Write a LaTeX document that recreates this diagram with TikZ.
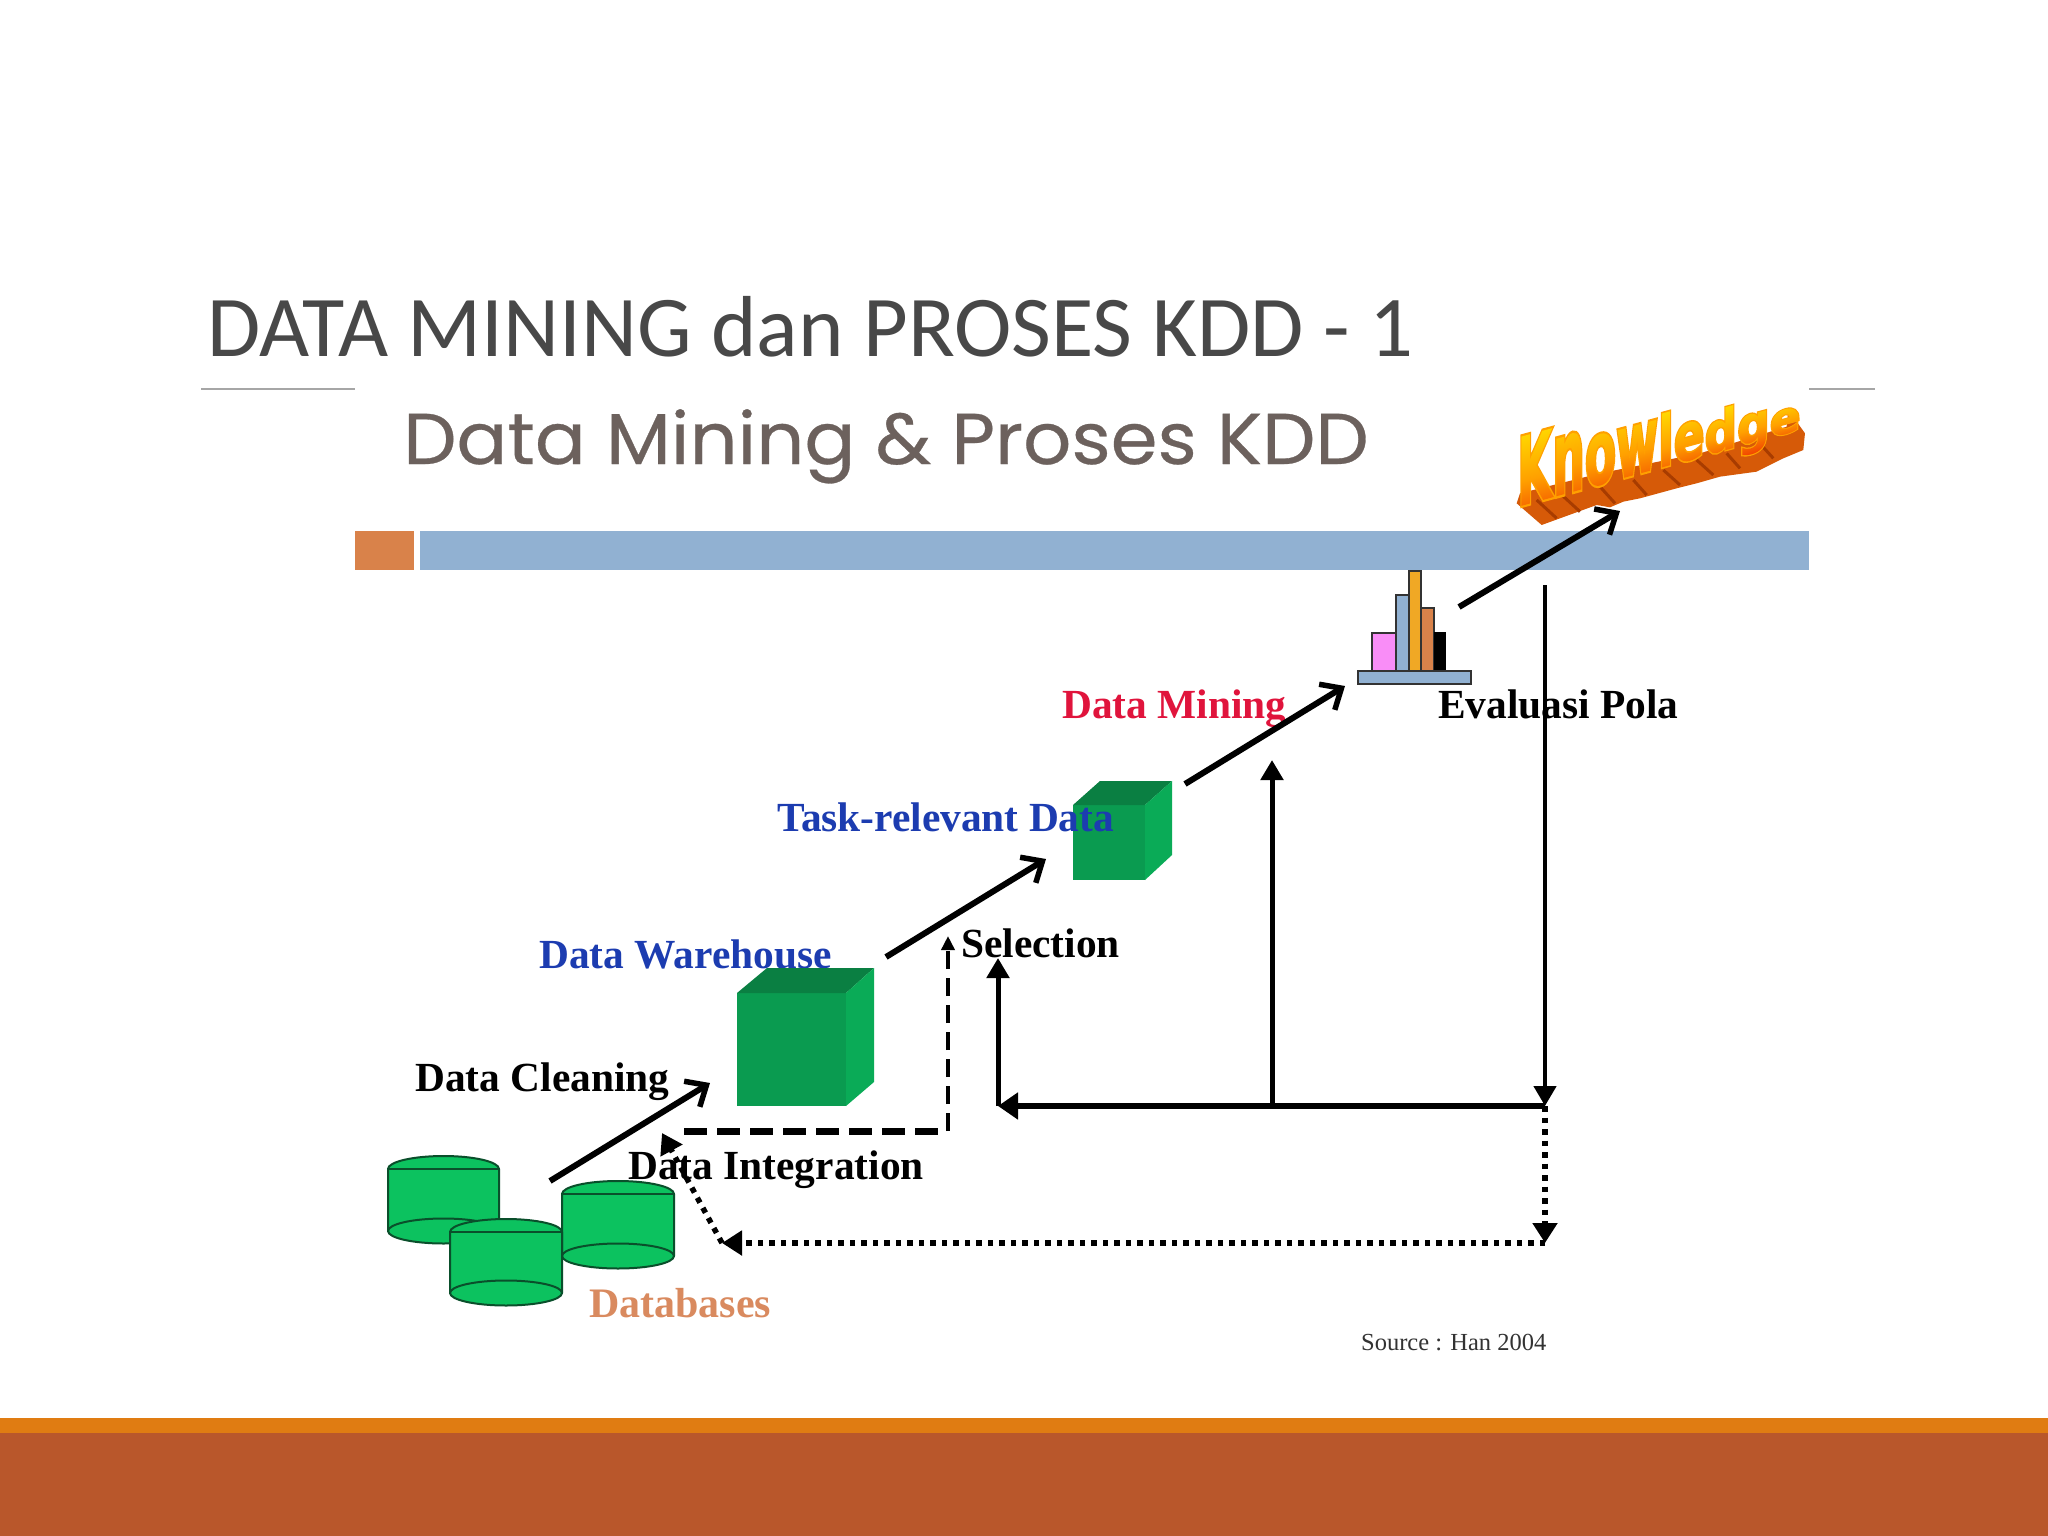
\documentclass[tikz,border=0pt]{standalone}
\usepackage{fontspec}
\usepackage{graphicx}
\usetikzlibrary{arrows.meta}
\setmainfont{Liberation Serif}
\newfontfamily\titlefont{Carlito}
\newfontfamily\headfont[FakeStretch=1.047,FakeBold=0.4]{Poppins}
\newfontfamily\wordart{DejaVu Sans}
\definecolor{titlegrey}{HTML}{484848}
\definecolor{headgrey}{HTML}{6C615D}
\definecolor{barblue}{HTML}{91B1D2}
\definecolor{sqorange}{HTML}{D9824A}
\definecolor{footorange}{HTML}{E07C12}
\definecolor{footrust}{HTML}{B9572B}
\definecolor{dbgreen}{HTML}{0CC25F}
\definecolor{dbline}{HTML}{0A4F2B}
\definecolor{cubefront}{HTML}{0A9B50}
\definecolor{cubetop}{HTML}{0A7F42}
\definecolor{cubeside}{HTML}{0AAB57}
\definecolor{lblue}{HTML}{1C3CB0}
\definecolor{lred}{HTML}{E0143C}
\definecolor{lorange}{HTML}{D98A5F}
\definecolor{rulegrey}{HTML}{A6A6A6}
\definecolor{extr}{HTML}{D65A08}
\definecolor{extrdark}{HTML}{A83C00}
\definecolor{kyellow}{HTML}{FFD800}
\definecolor{korange}{HTML}{FFA000}
\definecolor{kred}{HTML}{F04000}
\tikzset{
  lbl/.style={font=\fontsize{41.4}{41}\selectfont\bfseries,anchor=base west,inner sep=0pt},
  flow/.style={line width=6pt,-{Straight Barb[length=17pt,width=30pt,line width=5.5pt]}},
  solidv/.style={line width=4.5pt,-{Triangle[length=20pt,width=22pt]}},
  solidh/.style={line width=6pt,-{Triangle[length=20pt,width=26pt]}},
  dot/.style={line width=5.5pt,dash pattern=on 5.5pt off 6pt,-{Triangle[length=20pt,width=24pt]}},
  dashh/.style={line width=7pt,dash pattern=on 23pt off 10pt},
  dashv/.style={line width=3.5pt,dash pattern=on 18pt off 9pt,-{Triangle[length=14pt,width=13pt]}},
  cyl/.style={fill=dbgreen,draw=dbline,line width=2pt},
  barb/.style={draw=black!80,line width=2pt},
}
\newcommand{\dbcyl}[4]{% left, right, chord y, bottom centre y
  \path[cyl] (#1,#3) arc[start angle=180,end angle=360,x radius={(#2-#1)/2},y radius=13]
     -- (#2,#4) arc[start angle=0,end angle=180,x radius={(#2-#1)/2},y radius=12.5] -- cycle;
  \draw[cyl,fill=none] (#1,#3) -- (#2,#3);
  \draw[cyl,fill=none] (#1,#4) arc[start angle=180,end angle=360,x radius={(#2-#1)/2},y radius=12.5];
}
\newcommand{\cube}[8]{% x0 x1 x2 ytopback ytopfront ybottom ysidebottom backx
  \fill[cubefront] (#1,#5) rectangle (#2,#6);
  \fill[cubetop] (#1,#5) -- (#8,#4) -- (#3,#4) -- (#2,#5) -- cycle;
  \fill[cubeside] (#2,#5) -- (#3,#4) -- (#3,#7) -- (#2,#6) -- cycle;
}
\newsavebox\klbox
\newcommand{\kletter}[3]{\scalebox{#1}[#2]{\sbox\klbox{#3}%
  \special{pdf:literal direct q 2.4 w 5 Tr}\rlap{\usebox\klbox}\special{pdf:literal direct 0 Tr}%
  \rlap{\begin{tikzpicture}[x=1pt,y=1pt,overlay,baseline=0pt]
     \shade[top color=kyellow,bottom color=kred,middle color=korange] (-2,-12) rectangle (\wd\klbox+2,38);
  \end{tikzpicture}}%
  \special{pdf:literal direct Q}\phantom{#3}}}
\begin{document}
\begin{tikzpicture}[x=1pt,y=-1pt]
\useasboundingbox (0,0) rectangle (2048,1536);
\fill[white] (0,0) rectangle (2048,1536);
% footer
\fill[footrust] (0,1433) rectangle (2048,1536);
\fill[footorange] (0,1418) rectangle (2048,1433);
% title
\node[anchor=base west,inner sep=0pt,text=titlegrey,font=\titlefont\fontsize{86.6}{88}\selectfont] (title) at (207,356) {DATA MINING dan PROSES KDD - 1};
\draw[rulegrey,line width=1.5pt] (201,389) -- (355,389);
\draw[rulegrey,line width=1.5pt] (1809,389) -- (1875,389);
% heading
\node[anchor=base west,inner sep=0pt,text=headgrey,font=\headfont\fontsize{72}{72}\selectfont] (head) at (403,464) {Data Mining \& Proses KDD};
\fill[sqorange] (355,531) rectangle (414,570);
\fill[barblue] (420,531) rectangle (1809,570);
% Knowledge: extruded sides
\begin{scope}[shift={(1500,390)},x=0.3333pt,y=-0.3333pt]
  \fill[extr] (50,340) -- (125,405) -- (290,345) -- (330,352) -- (370,335) -- (420,325) -- (530,295)
     -- (590,280) -- (660,260) -- (770,245) -- (850,205) -- (910,180) -- (915,130) -- (865,60)
     -- (860,110) -- (600,190) -- (300,250) -- (60,310) -- cycle;
  \foreach \xa/\ya/\xb/\yb in {110/330/170/385,180/310/240/365,300/290/345/340,400/270/440/315,490/240/540/285,590/210/640/255,680/190/720/235,770/150/820/205}
    \draw[extrdark,line width=3pt] (\xa,\ya) -- (\xb,\yb);
\end{scope}
\begin{scope}[shift={(1517,507)},yslant=0.273]
\node[transform shape,anchor=base west,inner sep=0pt,text=korange,font=\wordart\bfseries\fontsize{50}{50}\selectfont] (know) at (0,0)
  {\kletter{0.91}{1.9}{K}\kletter{0.91}{2.1}{n}\kletter{0.91}{1.8}{o}\kletter{0.91}{1.8}{w}\kletter{0.91}{1.42}{l}\kletter{0.91}{1.35}{e}\kletter{0.91}{1.13}{d}\kletter{0.91}{1.05}{g}\kletter{0.91}{0.88}{e}};
\end{scope}
% chart
\path[barb,fill={rgb,255:red,249;green,141;blue,247}] (1372,633) rectangle (1396,671);
\path[barb,fill=barblue] (1396,595) rectangle (1409,671);
\path[barb,fill={rgb,255:red,240;green,168;blue,37}] (1409,571) rectangle (1421,671);
\path[barb,fill=sqorange] (1421,608) rectangle (1434,671);
\path[fill=black] (1434,632) rectangle (1446,671);
\path[barb,fill=barblue] (1358,671) rectangle (1471,684);
% cubes (warehouse label below its cube)
\node[lbl,text=lblue] (dw) at (539,968) {Data Warehouse};
\cube{737}{846}{874}{968}{993}{1106}{1082}{767}
\cube{1073}{1145}{1172}{781}{805}{880}{855}{1100}
% databases
\dbcyl{388}{499}{1169}{1231}
\dbcyl{562}{674}{1194}{1256}
\dbcyl{450}{562}{1232}{1293}
% labels
\node[lbl,text=lblue] (trd) at (777,831) {Task-relevant Data};
\node[lbl] (clean) at (415,1091) {Data Cleaning};
\node[lbl] (integ) at (628,1179) {Data Integration};
\node[lbl,text=lorange,font=\fontsize{42}{42}\selectfont\bfseries] (dbs) at (589,1317) {Databases};
\node[lbl] (sel) at (961,957) {Selection};
\node[lbl,text=lred] (dm) at (1062,718) {Data Mining};
\node[lbl] (eval) at (1438,718) {Evaluasi Pola};
\node[anchor=base west,inner sep=0pt,text=black!80,font=\fontsize{24.5}{26}\selectfont] (src) at (1361,1350) {Source : Han 2004};
% coordinates
\coordinate (a1s) at (550,1181); \coordinate (a1e) at (710,1083);
\coordinate (a2s) at (886,957);  \coordinate (a2e) at (1046,859);
\coordinate (a3s) at (1185,784); \coordinate (a3e) at (1345,686);
\coordinate (a4s) at (1459,607); \coordinate (a4e) at (1620,511);
\coordinate (top) at (1545,585); \coordinate (mid) at (1545,1106);
\coordinate (left) at (998,1106); \coordinate (selup) at (998,958);
\coordinate (midb) at (1272,1106); \coordinate (midt) at (1272,760);
\coordinate (low) at (1545,1243); \coordinate (lowl) at (722,1243);
\coordinate (intg) at (662,1133);
\coordinate (dh1) at (684,1131); \coordinate (dh2) at (948,1131); \coordinate (dh3) at (948,936);
% flow arrows
\draw[flow] (a1s) -- (a1e);
\draw[flow] (a2s) -- (a2e);
\draw[flow] (a3s) -- (a3e);
\draw[flow] (a4s) -- (a4e);
% feedback
\draw[solidv] (top) -- (mid);
\draw[solidh] (mid) -- (left);
\draw[solidv,line width=5pt] (left) -- (selup);
\draw[solidv,line width=5pt] (midb) -- (midt);
\draw[dot] (mid) -- (low);
\draw[dot] (low) -- (lowl);
\draw[dot] (lowl) -- (intg);
\draw[dashh] (dh1) -- (dh2);
\draw[dashv] (dh2) -- (dh3);
\end{tikzpicture}
\end{document}
